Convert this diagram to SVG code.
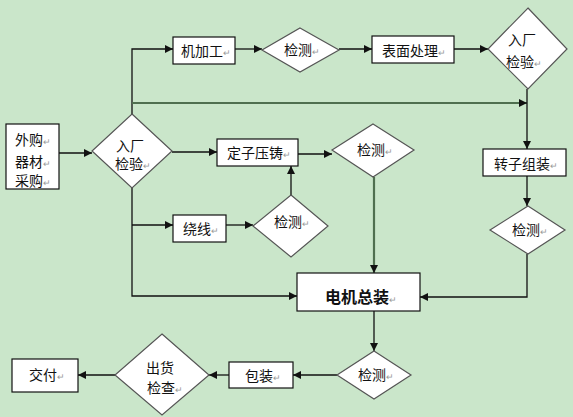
<svg xmlns="http://www.w3.org/2000/svg" width="573" height="417" viewBox="0 0 573 417">
<defs>
<marker id="arr" viewBox="0 0 10 10" refX="10" refY="5" markerWidth="10" markerHeight="8" markerUnits="userSpaceOnUse" orient="auto">
<path d="M0,0 L10,5 L0,10 z" fill="#111"/>
</marker>
<style>
.box{fill:#fff;stroke:#111;stroke-width:1.2}
.dia{fill:#fff;stroke:#555;stroke-width:1.2}
.t{font-family:"Noto Sans CJK SC","Noto Sans CJK JP",sans-serif;font-size:14px;fill:#111;text-anchor:middle}
.b{font-weight:bold;font-size:16px}
.m{fill:#999;font-size:9px}
.c{fill:none;stroke:#111;stroke-width:1.3}
.g{fill:none;stroke:#4f6f4f;stroke-width:2.2}
</style>
</defs>
<rect width="573" height="417" fill="#cae6ca"/>
<g id="connectors">
<path class="c" d="M59,153 H92" marker-end="url(#arr)"/>
<path class="c" d="M132,114 V49 H173" marker-end="url(#arr)"/>
<path class="g" d="M132,103 H527" marker-end="url(#arr)"/>
<path class="c" d="M172,152 H217" marker-end="url(#arr)"/>
<path class="c" d="M235,49 H262" marker-end="url(#arr)"/>
<path class="c" d="M339,49 H372" marker-end="url(#arr)"/>
<path class="c" d="M454,49 H488" marker-end="url(#arr)"/>
<path class="c" d="M527,89 V149" marker-end="url(#arr)"/>
<path class="c" d="M527,176 V206" marker-end="url(#arr)"/>
<path class="c" d="M527,254 V297 H420" marker-end="url(#arr)"/>
<path class="c" d="M298,154 H332" marker-end="url(#arr)"/>
<path class="g" d="M374,177 V273" marker-end="url(#arr)"/>
<path class="c" d="M291,195 V166" marker-end="url(#arr)"/>
<path class="c" d="M132,188 V296 H297" marker-end="url(#arr)"/>
<path class="c" d="M132,225 H173" marker-end="url(#arr)"/>
<path class="c" d="M226,225 H253" marker-end="url(#arr)"/>
<path class="c" d="M374,311 V351" marker-end="url(#arr)"/>
<path class="c" d="M337,375 H293" marker-end="url(#arr)"/>
<path class="c" d="M229,375 H209" marker-end="url(#arr)"/>
<path class="c" d="M115,375 H78" marker-end="url(#arr)"/>
</g>
<g id="purchase">
<rect class="box" x="6" y="124" width="53" height="65"/>
<text class="t" x="33" y="145">外购<tspan class="m">↵</tspan></text>
<text class="t" x="33" y="167">器材<tspan class="m">↵</tspan></text>
<text class="t" x="33" y="186">采购<tspan class="m">↵</tspan></text>
</g>
<g id="inspect1">
<polygon class="dia" points="132,114 172,151 132,188 92,151"/>
<text class="t" x="130" y="151">入厂</text>
<text class="t" x="133" y="169">检验<tspan class="m">↵</tspan></text>
</g>
<g id="machining">
<rect class="box" x="173" y="37" width="62" height="27"/>
<text class="t" x="206" y="56">机加工<tspan class="m">↵</tspan></text>
</g>
<g id="test1">
<polygon class="dia" points="300,28 339,50 300,72 262,50"/>
<text class="t" x="302" y="55">检测<tspan class="m">↵</tspan></text>
</g>
<g id="surface">
<rect class="box" x="372" y="36" width="82" height="27"/>
<text class="t" x="414" y="56">表面处理<tspan class="m">↵</tspan></text>
</g>
<g id="inspect2">
<polygon class="dia" points="528,8 567,49 528,89 488,49"/>
<text class="t" x="522" y="45">入厂</text>
<text class="t" x="524" y="67">检验<tspan class="m">↵</tspan></text>
</g>
<g id="rotor">
<rect class="box" x="483" y="149" width="83" height="27"/>
<text class="t" x="526" y="169">转子组装<tspan class="m">↵</tspan></text>
</g>
<g id="stator">
<rect class="box" x="217" y="139" width="81" height="27"/>
<text class="t" x="259" y="158">定子压铸<tspan class="m">↵</tspan></text>
</g>
<g id="test2">
<polygon class="dia" points="373,124 414,150 373,177 332,150"/>
<text class="t" x="375" y="155">检测<tspan class="m">↵</tspan></text>
</g>
<g id="winding">
<rect class="box" x="173" y="215" width="53" height="27"/>
<text class="t" x="201" y="234">绕线<tspan class="m">↵</tspan></text>
</g>
<g id="test3">
<polygon class="dia" points="291,195 328,226 291,257 253,226"/>
<text class="t" x="292" y="227">检测<tspan class="m">↵</tspan></text>
</g>
<g id="test4">
<polygon class="dia" points="528,206 565,230 528,254 490,230"/>
<text class="t" x="530" y="235">检测<tspan class="m">↵</tspan></text>
</g>
<g id="assembly">
<rect class="box" x="297" y="273" width="123" height="38"/>
<text class="t b" x="361" y="303">电机总装<tspan class="m" font-weight="normal">↵</tspan></text>
</g>
<g id="test5">
<polygon class="dia" points="374,351 411,375 374,399 337,375"/>
<text class="t" x="376" y="380">检测<tspan class="m">↵</tspan></text>
</g>
<g id="packing">
<rect class="box" x="229" y="362" width="64" height="26"/>
<text class="t" x="263" y="381">包装<tspan class="m">↵</tspan></text>
</g>
<g id="shipcheck">
<polygon class="dia" points="162,334 209,375 162,415 115,375"/>
<text class="t" x="160" y="373">出货</text>
<text class="t" x="165" y="393">检查<tspan class="m">↵</tspan></text>
</g>
<g id="deliver">
<rect class="box" x="12" y="359" width="66" height="33"/>
<text class="t" x="47" y="380">交付<tspan class="m">↵</tspan></text>
</g>
</svg>
